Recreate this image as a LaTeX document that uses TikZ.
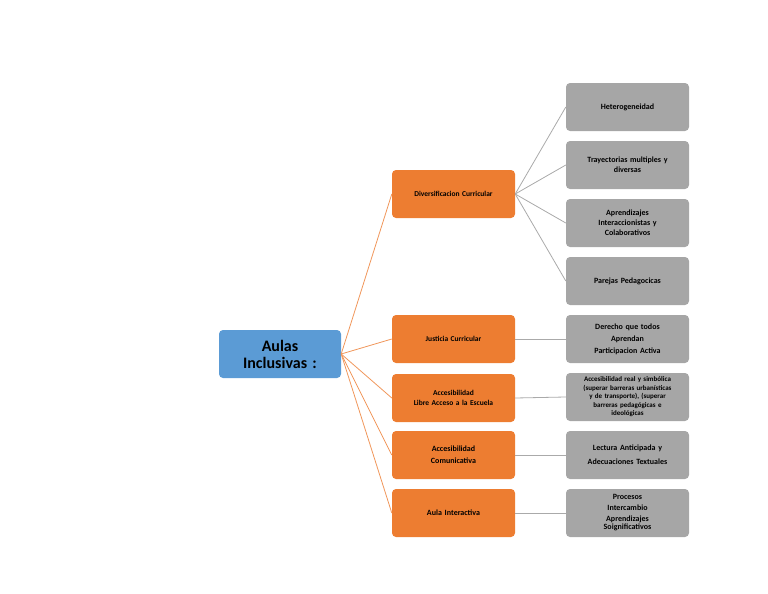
\documentclass[tikz,border=0pt]{standalone}
\usepackage{fontspec}
\setmainfont{Carlito}
\begin{document}
\begin{tikzpicture}[x=1pt,y=-1pt,
 box/.style={rounded corners=4pt,minimum width=123pt,minimum height=48pt,inner sep=1pt,align=center,font=\bfseries\fontsize{7.5}{10}\selectfont,text width=120pt},
 org/.style={box,fill=orange!85!red!90!white,draw=none,fill={rgb,255:red,237;green,125;blue,49}},
 gry/.style={box,fill={rgb,255:red,166;green,166;blue,166}},
 ol/.style={draw={rgb,255:red,240;green,150;blue,90},line width=0.8pt},
 gl/.style={draw={rgb,255:red,170;green,170;blue,170},line width=0.8pt}]
\useasboundingbox (0,0) rectangle (768,594);
\node[box,fill={rgb,255:red,91;green,155;blue,213},minimum width=122pt,text width=118pt,font=\bfseries\fontsize{16}{17}\selectfont] (r) at (280,354) {Aulas\\Inclusivas :};
\node[org] (o1) at (453.5,194) {Diversificacion Curricular};
\node[org] (o2) at (453.5,339) {Justicia Curricular};
\node[org] (o3) at (453.5,398) {Accesibilidad\\Libre Acceso a la Escuela};
\node[org,font=\bfseries\fontsize{8}{12}\selectfont] (o4) at (453.5,455) {Accesibilidad\\Comunicativa};
\node[org,font=\bfseries\fontsize{8}{12}\selectfont] (o5) at (453.5,513) {Aula Interactiva};
\node[gry,font=\bfseries\fontsize{8}{10}\selectfont] (g1) at (627.5,107) {Heterogeneidad};
\node[gry,font=\bfseries\fontsize{8}{10}\selectfont] (g2) at (627.5,165) {Trayectorias multiples y\\diversas};
\node[gry,font=\bfseries\fontsize{8}{10}\selectfont] (g3) at (627.5,223) {Aprendizajes\\Interaccionistas y\\Colaborativos};
\node[gry,font=\bfseries\fontsize{8}{10}\selectfont] (g4) at (627.5,281) {Parejas Pedagocicas};
\node[gry,font=\bfseries\fontsize{8}{12}\selectfont] (g5) at (627.5,339) {Derecho que todos\\Aprendan\\Participacion Activa};
\node[gry,font=\bfseries\fontsize{7}{8.5}\selectfont] (g6) at (627.5,397) {Accesibilidad real y simbólica\\(superar barreras urbanísticas\\y de transporte), (superar\\barreras pedagógicas e\\ideológicas};
\node[gry,font=\bfseries\fontsize{8}{14}\selectfont] (g7) at (627.5,455) {Lectura Anticipada y\\Adecuaciones Textuales};
\node[gry,font=\bfseries\fontsize{8}{11}\selectfont] (g8) at (627.5,513) {Procesos\\Intercambio\\Aprendizajes\\[-3pt]Soignificativos};
\foreach \o in {o1,o2,o3,o4,o5} \draw[ol] (r.east) -- (\o.west);
\foreach \g in {g1,g2,g3,g4} \draw[gl] (o1.east) -- (\g.west);
\draw[gl] (o2.east) -- (g5.west);
\draw[gl] (o3.east) -- (g6.west);
\draw[gl] (o4.east) -- (g7.west);
\draw[gl] (o5.east) -- (g8.west);
\end{tikzpicture}
\end{document}
